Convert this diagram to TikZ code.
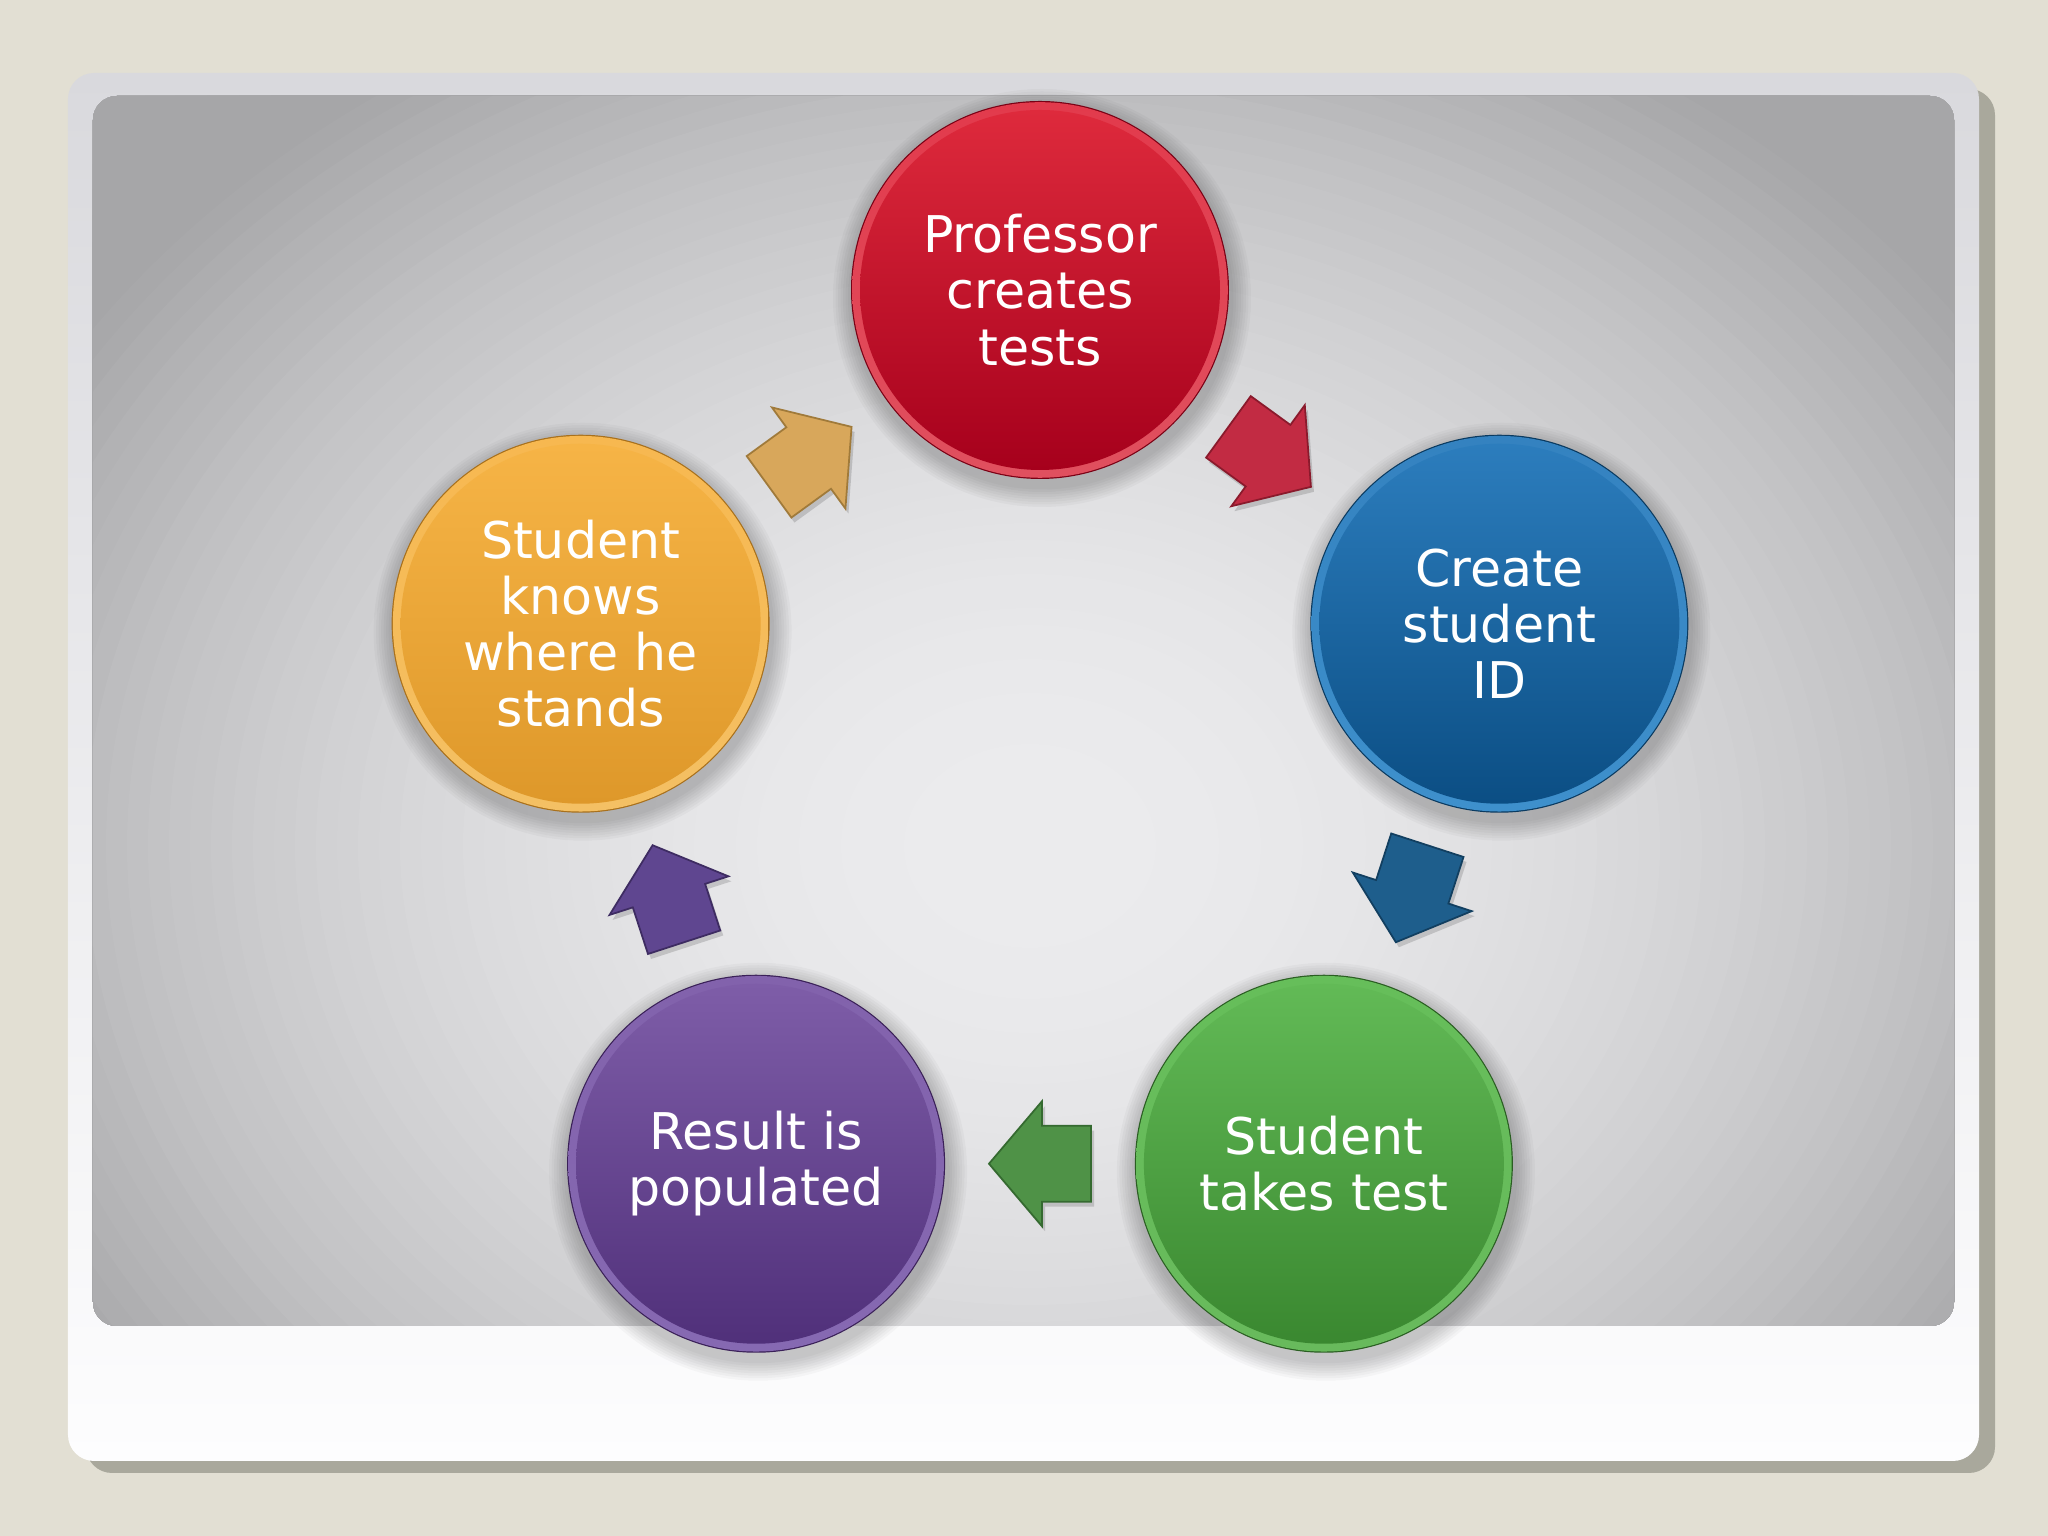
\documentclass[tikz,border=0pt]{standalone}
\usepackage{fontspec}
\newfontfamily\btnfont{DejaVu Sans}
\usetikzlibrary{calc}
\definecolor{bgbeige}{HTML}{E2DFD3}
\definecolor{frameshadow}{HTML}{A9A89C}
\definecolor{frameTop}{HTML}{D9D9DD}
\definecolor{frameBot}{HTML}{FDFDFE}
% red
\definecolor{redT}{HTML}{DE2A3C}\definecolor{redB}{HTML}{A6001C}
\definecolor{redRT}{HTML}{E23A4C}\definecolor{redRB}{HTML}{E0505F}
\definecolor{redE}{HTML}{7A0014}
\definecolor{redA}{HTML}{C22B43}\definecolor{redAO}{HTML}{8A1A2C}
% blue
\definecolor{bluT}{HTML}{2C7DBD}\definecolor{bluB}{HTML}{0B4E84}
\definecolor{bluRT}{HTML}{3482C0}\definecolor{bluRB}{HTML}{3E90CC}
\definecolor{bluE}{HTML}{0A3A60}
\definecolor{bluA}{HTML}{1E5E8C}\definecolor{bluAO}{HTML}{123F60}
% green
\definecolor{grnT}{HTML}{62BA56}\definecolor{grnB}{HTML}{3A8830}
\definecolor{grnRT}{HTML}{66BE5A}\definecolor{grnRB}{HTML}{68BA5C}
\definecolor{grnE}{HTML}{2A5E22}
\definecolor{grnA}{HTML}{4F9247}\definecolor{grnAO}{HTML}{356A30}
% purple
\definecolor{purT}{HTML}{7E5DA8}\definecolor{purB}{HTML}{50307A}
\definecolor{purRT}{HTML}{8262AC}\definecolor{purRB}{HTML}{8669B2}
\definecolor{purE}{HTML}{3A2058}
\definecolor{purA}{HTML}{5F4690}\definecolor{purAO}{HTML}{3E2C62}
% orange
\definecolor{orgT}{HTML}{F6B446}\definecolor{orgB}{HTML}{DE982A}
\definecolor{orgRT}{HTML}{F7B850}\definecolor{orgRB}{HTML}{F4C064}
\definecolor{orgE}{HTML}{A8701C}
\definecolor{orgA}{HTML}{D8A75B}\definecolor{orgAO}{HTML}{A07A3A}

\tikzset{
  btntext/.style={circle, minimum size=3.78cm, inner sep=0pt, align=center,
    text=white, font=\btnfont\fontsize{14.4pt}{16pt}\selectfont},
}

\newcommand\glossbtn[4]{%
  \coordinate (#1c) at #2;
  \foreach \k in {1,...,8}{\fill[black,opacity=0.028] ($(#1c)+(0.02,-0.08)$) circle ({1.89+0.025*\k});}
  \fill[#3E] (#1c) circle (1.89);
  \shade[top color=#3RT, bottom color=#3RB] (#1c) circle (1.878);
  \shade[top color=#3T, bottom color=#3B] (#1c) circle (1.80);
  \node[btntext] (#1) at (#1c) {#4};
}

\newcommand\blockarrow[3]{%
  \pgfmathanglebetweenpoints{\pgfpointanchor{#1}{center}}{\pgfpointanchor{#2}{center}}%
  \let\arrang\pgfmathresult
  \begin{scope}[shift={($(#1)!0.5!(#2)+(0.03,-0.05)$)}, rotate=\arrang]
    \fill[black, opacity=0.15] (-0.51,-0.38) -- (-0.02,-0.38) -- (-0.02,-0.625) -- (0.51,0) -- (-0.02,0.625) -- (-0.02,0.38) -- (-0.51,0.38) -- cycle;
  \end{scope}
  \begin{scope}[shift={($(#1)!0.5!(#2)$)}, rotate=\arrang]
    \filldraw[fill=#3A, draw=#3AO, line width=0.5pt, line join=miter] (-0.51,-0.38) -- (-0.02,-0.38) -- (-0.02,-0.625) -- (0.51,0) -- (-0.02,0.625) -- (-0.02,0.38) -- (-0.51,0.38) -- cycle;
  \end{scope}
}

\begin{document}
\begin{tikzpicture}
\useasboundingbox (0,0) rectangle (20.48,15.36);
\fill[bgbeige] (0,0) rectangle (20.48,15.36);
\fill[frameshadow, rounded corners=0.26cm] (0.86,0.63) rectangle (19.95,14.47);
\shade[top color=frameTop, bottom color=frameBot, rounded corners=0.26cm] (0.68,0.75) rectangle (19.79,14.63);
\begin{scope}
  \clip[rounded corners=0.24cm] (0.93,2.10) rectangle (19.54,14.40);
  \foreach \i in {75,...,1}{%
    \pgfmathsetmacro\s{\i/50}%
    \pgfmathtruncatemacro\lv{max(166,236-58*\s*\s)}%
    \pgfmathtruncatemacro\lvb{min(255,\lv+2)}%
    \definecolor{panstep}{RGB}{\lv,\lv,\lvb}%
    \fill[panstep] (10.30,6.9) ellipse [x radius={10.5*\s}, y radius={8.5*\s}];
  }
\end{scope}

\coordinate (ctr) at (10.40,7.63);
\glossbtn{prof}{($(ctr)+(90:4.83)$)}{red}{Professor\\creates\\tests}
\glossbtn{sid}{($(ctr)+(18:4.83)$)}{blu}{Create\\student\\ID}
\glossbtn{take}{($(ctr)+(-54:4.83)$)}{grn}{Student\\takes test}
\glossbtn{res}{($(ctr)+(-126:4.83)$)}{pur}{Result is\\populated}
\glossbtn{knows}{($(ctr)+(162:4.83)$)}{org}{Student\\knows\\where he\\stands}

\blockarrow{prof}{sid}{red}
\blockarrow{sid}{take}{blu}
\blockarrow{take}{res}{grn}
\blockarrow{res}{knows}{pur}
\blockarrow{knows}{prof}{org}
\end{tikzpicture}
\end{document}
